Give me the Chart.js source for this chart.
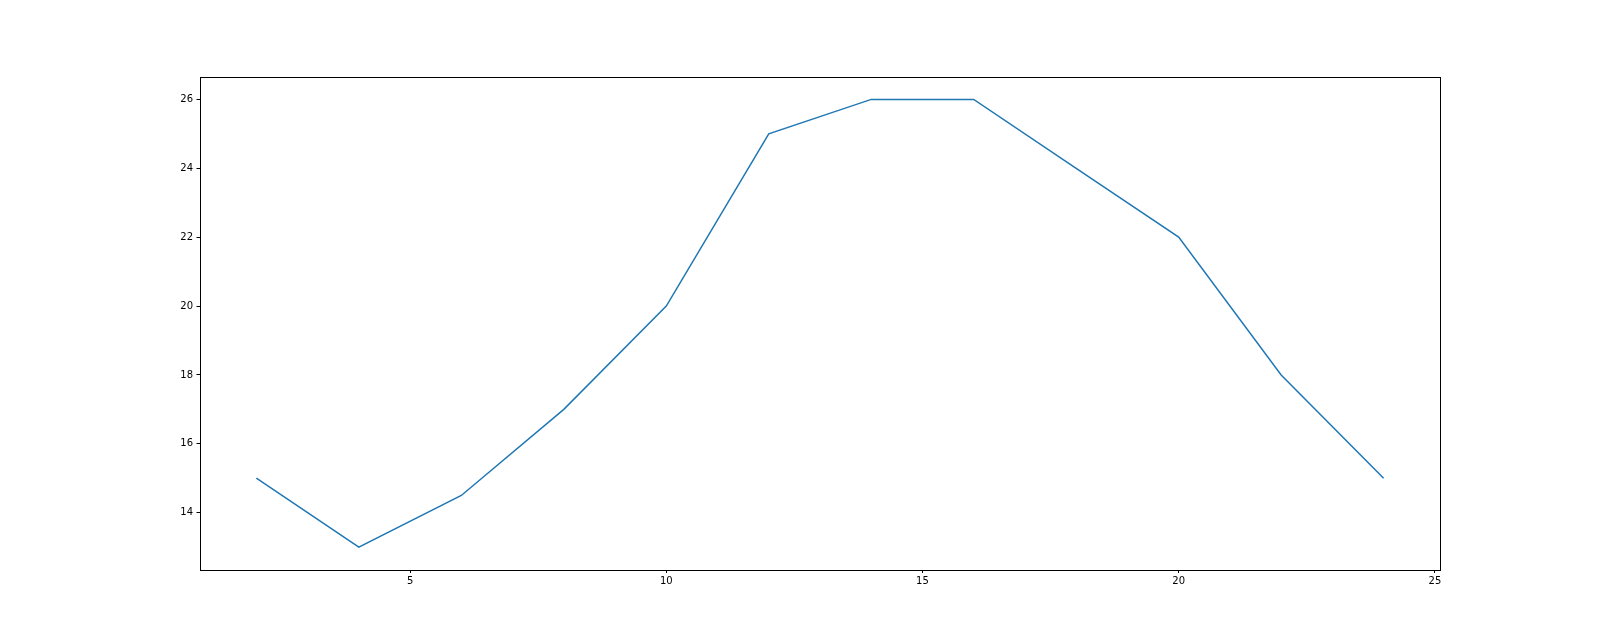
<!DOCTYPE html>
<html>
<head>
<meta charset="utf-8">
<script src="https://cdn.jsdelivr.net/npm/chart.js@4/dist/chart.umd.min.js"></script>
<style>
  html, body { margin: 0; padding: 0; background: #fff; }
  #wrap { width: 1600px; height: 640px; }
</style>
</head>
<body>
<div id="wrap"><canvas id="line-chart" width="1600" height="640"></canvas></div>
<script>
// Data
const xValues = [2, 4, 6, 8, 10, 12, 14, 16, 18, 20, 22, 24];
const yValues = [15, 13, 14.5, 17, 20, 25, 26, 26, 24, 22, 18, 15];
const xTicks = [5, 10, 15, 20, 25];
const yTicks = [14, 16, 18, 20, 22, 24, 26];

// draws the box round the plot area, like matplotlib spines
const frame = {
    id: 'frame',
    afterDraw(chart) {
        const { ctx, chartArea: a } = chart;
        ctx.save();
        ctx.strokeStyle = '#000';
        ctx.lineWidth = 1;
        ctx.strokeRect(Math.round(a.left) + 0.5, Math.round(a.top) + 0.5,
            Math.round(a.right - a.left), Math.round(a.bottom - a.top));
        ctx.restore();
    }
};

const tickFont = { family: 'DejaVu Sans', size: 10 };

const lineChart = new Chart(document.getElementById('line-chart'), {
    type: 'line',
    data: {
        datasets: [{
            data: xValues.map((x, i) => ({ x: x, y: yValues[i] })),
            borderColor: '#1f77b4',
            borderWidth: 1.5,
            pointRadius: 0,
            tension: 0,
            fill: false
        }]
    },
    options: {
        responsive: false,
        animation: false,
        devicePixelRatio: 1,
        layout: { padding: { top: 77, right: 160, bottom: 0, left: 0 } },
        plugins: {
            legend: { display: false },
            tooltip: { enabled: false }
        },
        scales: {
            x: {
                type: 'linear',
                min: 0.9,
                max: 25.1,
                afterBuildTicks: s => { s.ticks = xTicks.map(v => ({ value: v })); },
                afterFit: s => { s.height = 70.5; },
                grid: { drawOnChartArea: false, tickLength: 3.5, tickColor: '#000', tickWidth: 1 },
                border: { display: false },
                ticks: { font: tickFont, color: '#000', padding: 2, maxRotation: 0 }
            },
            y: {
                type: 'linear',
                min: 12.35,
                max: 26.65,
                afterBuildTicks: s => { s.ticks = yTicks.map(v => ({ value: v })); },
                afterFit: s => { s.width = 200; },
                grid: { drawOnChartArea: false, tickLength: 3.5, tickColor: '#000', tickWidth: 1 },
                border: { display: false },
                ticks: { font: tickFont, color: '#000', padding: 3.5 }
            }
        }
    },
    plugins: [frame]
});
</script>
</body>
</html>
